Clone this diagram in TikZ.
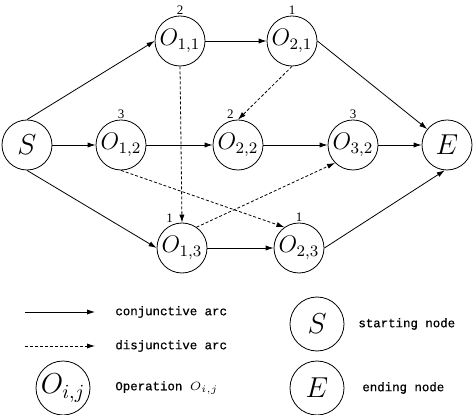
\documentclass[tikz,border=0pt]{standalone}
\usepackage{fontspec}
\setmainfont{Liberation Serif}
\setmonofont[FakeBold=0.6]{Liberation Mono}
\usetikzlibrary{arrows.meta}

\begin{document}
\begin{tikzpicture}[x=0.5pt, y=-0.5pt,
	op/.style={draw, circle, minimum size=25pt, inner sep=0pt, font=\large},
	se/.style={op, font=\Large},
	zahl/.style={font=\fontsize{6.5}{7}\selectfont, inner sep=0.5pt},
	pfeil/.style={-{Latex[length=4pt, width=2.6pt]}, thin},
	gestr/.style={pfeil, dash pattern=on 1.5pt off 1pt},
	leg/.style={anchor=west, inner sep=0pt, font=\fontsize{6.2}{7}\selectfont\ttfamily}]
	\useasboundingbox (0,0) rectangle (474,415); % Rand um Grafik

	% Knoten
	\node[se] (S) at (27,145) {$S$};
	\node[op, label={[zahl]above:2}] (O11) at (180,41) {$O_{1,1}$};
	\node[op, label={[zahl]above:1}] (O21) at (292,41) {$O_{2,1}$};
	\node[op, label={[zahl]above:3}] (O12) at (121,145) {$O_{1,2}$};
	\node[op, label={[zahl]97:2}] (O22) at (238,145) {$O_{2,2}$};
	\node[op, label={[zahl]above:3}] (O32) at (353,145) {$O_{3,2}$};
	\node[se] (E) at (447,145) {$E$};
	\node[op, label={[zahl]108:1}] (O13) at (182,248) {$O_{1,3}$};
	\node[op, label={[zahl]above:1}] (O23) at (299,248) {$O_{2,3}$};

	% konjunktive Kanten
	\draw[pfeil] (S.north) -- (O11.west);
	\draw[pfeil] (S.east) -- (O12.west);
	\draw[pfeil] (S.south) -- (O13.west);
	\draw[pfeil] (O11) -- (O21);
	\draw[pfeil] (O12) -- (O22);
	\draw[pfeil] (O22) -- (O32);
	\draw[pfeil] (O32) -- (E);
	\draw[pfeil] (O13) -- (O23);
	\draw[pfeil] (O21.east) -- (E);
	\draw[pfeil] (O23.east) -- (E.-95);

	% disjunktive Kanten
	\draw[gestr] (O11.south) -- (O13.north);
	\draw[gestr] (O21.south) -- (O22.north);
	\draw[gestr] (O12.south) -- (O23.125);
	\draw[gestr] (O13.55) -- (O32.south west);

	% Legende
	\coordinate (k1) at (25,312);
	\coordinate (k2) at (95,312);
	\coordinate (d1) at (25,346);
	\coordinate (d2) at (95,346);
	\draw[pfeil] (k1) -- (k2);
	\draw[gestr] (d1) -- (d2);
	\node[leg] (tk) at (115,312) {conjunctive arc};
	\node[leg] (td) at (115,346) {disjunctive arc};
	\node[op, minimum size=27pt, font=\Large] (lop) at (63,388) {$O_{i,j}$};
	\node[leg] (top) at (115,388) {Operation $O_{i,j}$};
	\node[se, minimum size=27pt] (lS) at (317,324) {$S$};
	\node[leg] (tS) at (358,324) {starting node};
	\node[se, minimum size=27pt] (lE) at (317,388) {$E$};
	\node[leg] (tE) at (362,388) {ending node};
\end{tikzpicture}
\end{document}
